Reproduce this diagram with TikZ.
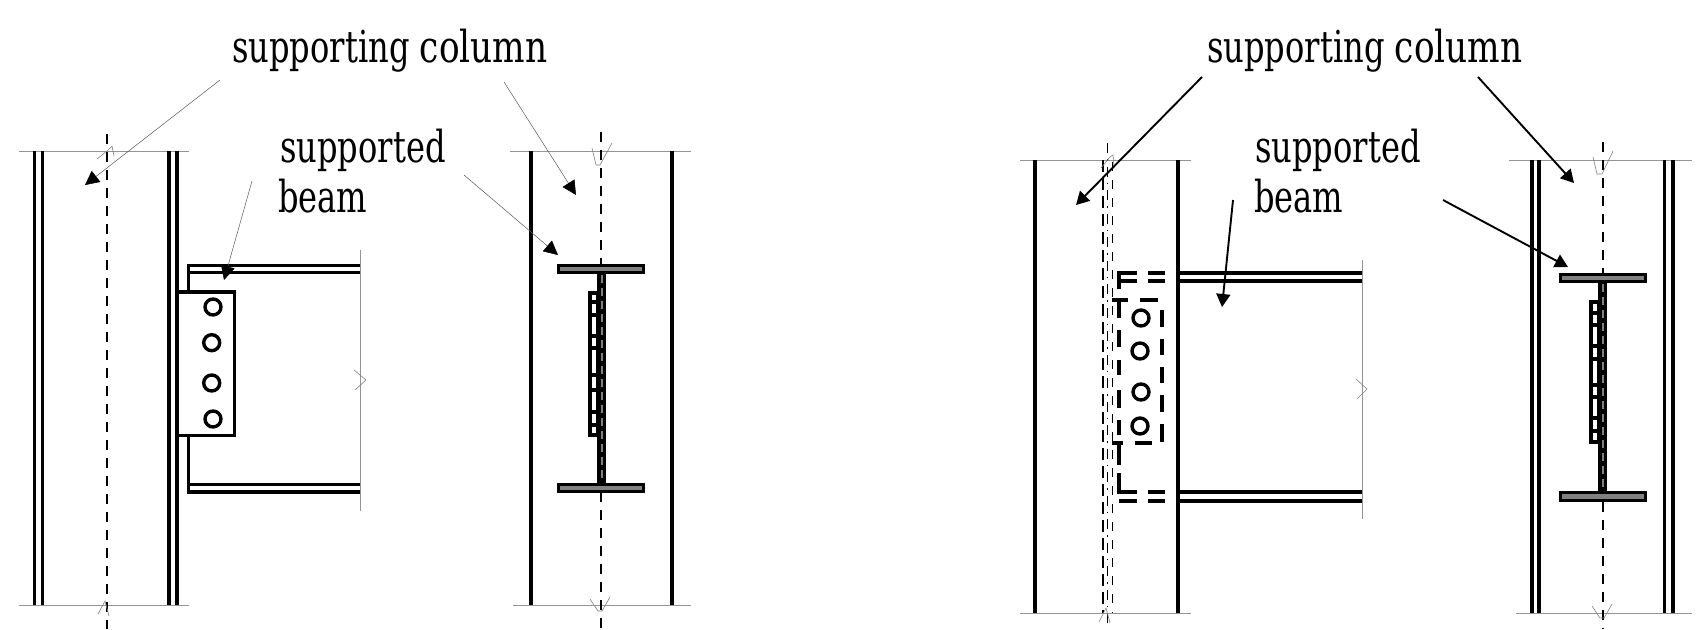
\documentclass[tikz,border=0pt]{standalone}
\usepackage{fontspec}
\setmainfont{DejaVu Serif}[FakeStretch=0.73]
\usetikzlibrary{arrows.meta}
\newcommand{\widerword}[1]{{\addfontfeature{FakeStretch=0.78}#1}}
\tikzset{
  thinline/.style={draw=black!42,line width=0.9pt},
  breakline/.style={draw=black!50,line width=0.6pt},
  heavy/.style={draw=black,line width=3.4pt},
  medium/.style={draw=black,line width=3.2pt},
  centre/.style={draw=black,line width=2.3pt,dash pattern=on 9.5pt off 8.5pt},
  hiddenbig/.style={draw=black,line width=4pt},
  hiddenplate/.style={draw=black,line width=3.2pt},
  leaderthin/.style={draw=black!65,line width=0.5pt,-{Triangle[length=14pt,width=14pt,color=black]}},
  leaderbold/.style={draw=black,line width=1.9pt,-{Triangle[length=13pt,width=14pt]}},
  bolt/.style={circle,draw=black,line width=3.4pt,minimum size=16pt,inner sep=0pt,fill=white},
  lbl/.style={anchor=base west,inner sep=0pt,font=\fontsize{44}{44}\selectfont},
  flange/.style={draw=black,line width=3.2pt,fill=black!50},
}
\begin{document}
\begin{tikzpicture}[x=1pt,y=-1pt]
\useasboundingbox (0,0) rectangle (1707,629);
% ---- labels
\node[lbl] (colA) at (232,62) {supporting \widerword{column}};
\node[lbl] (beamA) at (280,162) {supported};
\node[lbl] (beamAb) at (278,212) {beam};
\node[lbl] (colB) at (1207,62) {supporting \widerword{column}};
\node[lbl] (beamB) at (1255,162) {supported};
\node[lbl] (beamBb) at (1254,212) {beam};
% ---- DIAGRAM 1 elevation
\draw[thinline] (19,151) -- (189,151);
\draw[thinline] (19,605) -- (189,605);
\foreach \x in {34.5,42.5,169,177} \draw[heavy] (\x,151) -- (\x,605);
\draw[centre] (107,134) -- (107,629);
\draw[breakline] (97,159) -- (107,151) -- (112,146) -- (114,156);
\draw[breakline] (98,614) -- (105,601) -- (109,616);
\draw[thinline] (360.5,250) -- (360.5,511);
\draw[breakline] (354,370) -- (366,380) -- (355,390);
\draw[medium] (360,265.7) -- (188.5,265.7) -- (188.5,292);
\draw[heavy] (188.5,272.7) -- (360,272.7);
\draw[medium] (188.5,435) -- (188.5,492) -- (360,492);
\draw[medium] (188.5,484.7) -- (360,484.7);
\draw[medium,line cap=square] (178,292) -- (234.7,292) -- (234.7,435.5) -- (178,435.5);
\foreach \n/\x/\y in {a/213/307,b/211.7/342.7,c/211.7/383,d/213/419} \node[bolt] (bolt\n) at (\x,\y) {};
% ---- DIAGRAM 1 section
\draw[thinline] (510,151) -- (691,151);
\draw[thinline] (513,605) -- (691,605);
\foreach \x in {531,672} \draw[draw=black,line width=3.8pt] (\x,151) -- (\x,605);
\draw[centre] (601,132) -- (601,629);
\draw[breakline] (592,148) -- (596,165) -- (600,165) -- (612,143);
\draw[breakline] (590,599) -- (598,611) -- (602,611) -- (610,597);
\fill[black] (597,272) rectangle (606,485);
\draw[black!50,line width=2pt,dash pattern=on 8pt off 5pt] (601.5,275) -- (601.5,482);
\draw[draw=black,line width=3.6pt] (590,293) rectangle (598,435);
\foreach \y in {302,315,336,348,375,390,412,425} \draw[draw=black,line width=3.2pt] (590,\y) -- (598,\y);
\draw[flange] (558.7,265.7) rectangle (643.5,272.5);
\draw[flange] (558.7,484.7) rectangle (643.5,491.5);
% ---- DIAGRAM 2 elevation
\draw[thinline] (1020,160) -- (1191,160);
\draw[thinline] (1020,613) -- (1191,613);
\foreach \x in {1035,1178} \draw[draw=black,line width=3.8pt] (\x,160) -- (\x,613);
\draw[black,line width=2.4pt,dash pattern=on 12pt off 6pt] (1103,160) -- (1103,613);
\draw[black,line width=0.9pt,dash pattern=on 10pt off 6pt on 1.5pt off 6pt] (1107.5,143) -- (1107.5,629);
\draw[black,line width=1pt,dash pattern=on 9pt off 9pt] (1112,162) -- (1112,613);
\draw[breakline] (1101,168) -- (1110,157) -- (1113,155) -- (1114,167);
\draw[breakline] (1099,622) -- (1106,608) -- (1110,623);
\draw[thinline] (1362,260) -- (1362,519);
\draw[breakline] (1356,379) -- (1367,389) -- (1357,399);
\foreach \y in {273,281,492,501} \draw[medium] (1178,\y) -- (1362,\y);
% hidden beam and plate
\draw[hiddenbig] (1137,273) -- (1119,273) -- (1119,289);
\draw[hiddenbig] (1119,281) -- (1137,281);
\foreach \a/\b in {1148/1165} {\draw[hiddenbig] (\a,273) -- (\b,273); \draw[hiddenbig] (\a,281) -- (\b,281); \draw[hiddenbig] (\a,492) -- (\b,492); \draw[hiddenbig] (\a,501) -- (\b,501);}
\draw[hiddenplate] (1112,300) -- (1128,300);
\draw[hiddenplate] (1140,300) -- (1158,300);
\foreach \a/\b in {300/318,330/347,360/375,390/408,420/435,443/465} \draw[hiddenbig] (1119,\a) -- (1119,\b);
\draw[hiddenbig] (1119,473) -- (1119,492) -- (1137,492);
\draw[hiddenbig] (1119,501) -- (1137,501);
\foreach \a/\b in {310/327,339/355,367/383,395/412,424/442} \draw[hiddenplate] (1162,\a) -- (1162,\b);
\draw[hiddenplate] (1112,443) -- (1123,443);
\draw[hiddenplate] (1135,443) -- (1152,443);
\foreach \n/\x/\y in {e/1141/318,f/1140/351,g/1141/392,h/1140/426} \node[bolt] (bolt\n) at (\x,\y) {};
% ---- DIAGRAM 2 section
\draw[thinline] (1509,160) -- (1692,160);
\draw[thinline] (1516,613) -- (1692,613);
\foreach \x in {1532,1539,1664.5,1673} \draw[heavy] (\x,160) -- (\x,613);
\draw[centre] (1603,142) -- (1603,629);
\draw[breakline] (1593,157) -- (1597,174) -- (1602,174) -- (1613,151);
\draw[breakline] (1592,606) -- (1600,618) -- (1604,618) -- (1612,604);
\fill[black] (1598,280) rectangle (1607,493);
\draw[black!50,line width=2pt,dash pattern=on 8pt off 5pt] (1603,284) -- (1603,490);
\draw[draw=black,line width=3.6pt] (1591,302) rectangle (1599,442);
\foreach \y in {313,325,346,359,385,397,418,431} \draw[draw=black,line width=3.2pt] (1591,\y) -- (1599,\y);
\draw[flange] (1560.7,274.7) rectangle (1645.5,281.5);
\draw[flange] (1560.7,492.7) rectangle (1645.5,500.3);
% ---- leaders
\coordinate (s1) at (220,80); \coordinate (t1) at (85,185);
\coordinate (s2) at (252,181); \coordinate (t2) at (224,280);
\coordinate (s3) at (504,82); \coordinate (t3) at (576,195);
\coordinate (s4) at (464,175); \coordinate (t4) at (558,255);
\coordinate (s5) at (1202,77); \coordinate (t5) at (1076,205);
\coordinate (s6) at (1233,200); \coordinate (t6) at (1222,307);
\coordinate (s7) at (1478,77); \coordinate (t7) at (1574,183);
\coordinate (s8) at (1443,200); \coordinate (t8) at (1568,267);
\foreach \i in {1,2,3,4} \draw[leaderthin] (s\i) -- (t\i);
\foreach \i in {5,6,7,8} \draw[leaderbold] (s\i) -- (t\i);
\end{tikzpicture}
\end{document}
